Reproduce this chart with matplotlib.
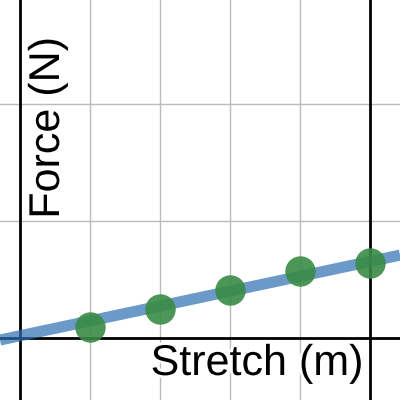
import matplotlib.pyplot as plt
import matplotlib.patheffects as pe

stretch = [1, 2, 3, 4, 5]
force = [0.094, 0.248, 0.41, 0.573, 0.641]
slope = 0.127
intercept = 0.019

fig = plt.figure(figsize=(4, 4), dpi=100)
ax = fig.add_axes([0, 0, 1, 1])
x0, x1 = -20 / 70, 380 / 70
y0, y1 = -62 / 117, 338 / 117
ax.set_xlim(x0, x1)
ax.set_ylim(y0, y1)

for gx in [1, 2, 3, 4]:
    ax.axvline(gx, color='#bbbbbb', lw=1, zorder=0)
for gy in [1, 2]:
    ax.axhline(gy, color='#bbbbbb', lw=1, zorder=0)
ax.axvline(0, color='black', lw=2, zorder=1)
ax.axvline(5, color='black', lw=2, zorder=1)
ax.axhline(0, color='black', lw=2, zorder=1)

ax.plot([x0, x1], [intercept + slope * x0, intercept + slope * x1],
        color='#2d70b3', alpha=0.7, lw=8, solid_capstyle='butt', zorder=2)
ax.scatter(stretch, force, s=480, color='#388c46', alpha=0.9, zorder=3, linewidths=0)

halo = [pe.withStroke(linewidth=4, foreground='white')]
ax.text((257 - 20) / 70, (338 - 364) / 117, 'Stretch (m)', fontsize=31,
        family='Liberation Sans', ha='center', va='center', path_effects=halo, zorder=4)
ax.text((48 - 20) / 70, (338 - 128) / 117, 'Force (N)', fontsize=31, rotation=90,
        family='Liberation Sans', ha='center', va='center', path_effects=halo, zorder=4)

ax.set_xticks([])
ax.set_yticks([])
for s in ax.spines.values():
    s.set_visible(False)

fig.savefig('out.png')
